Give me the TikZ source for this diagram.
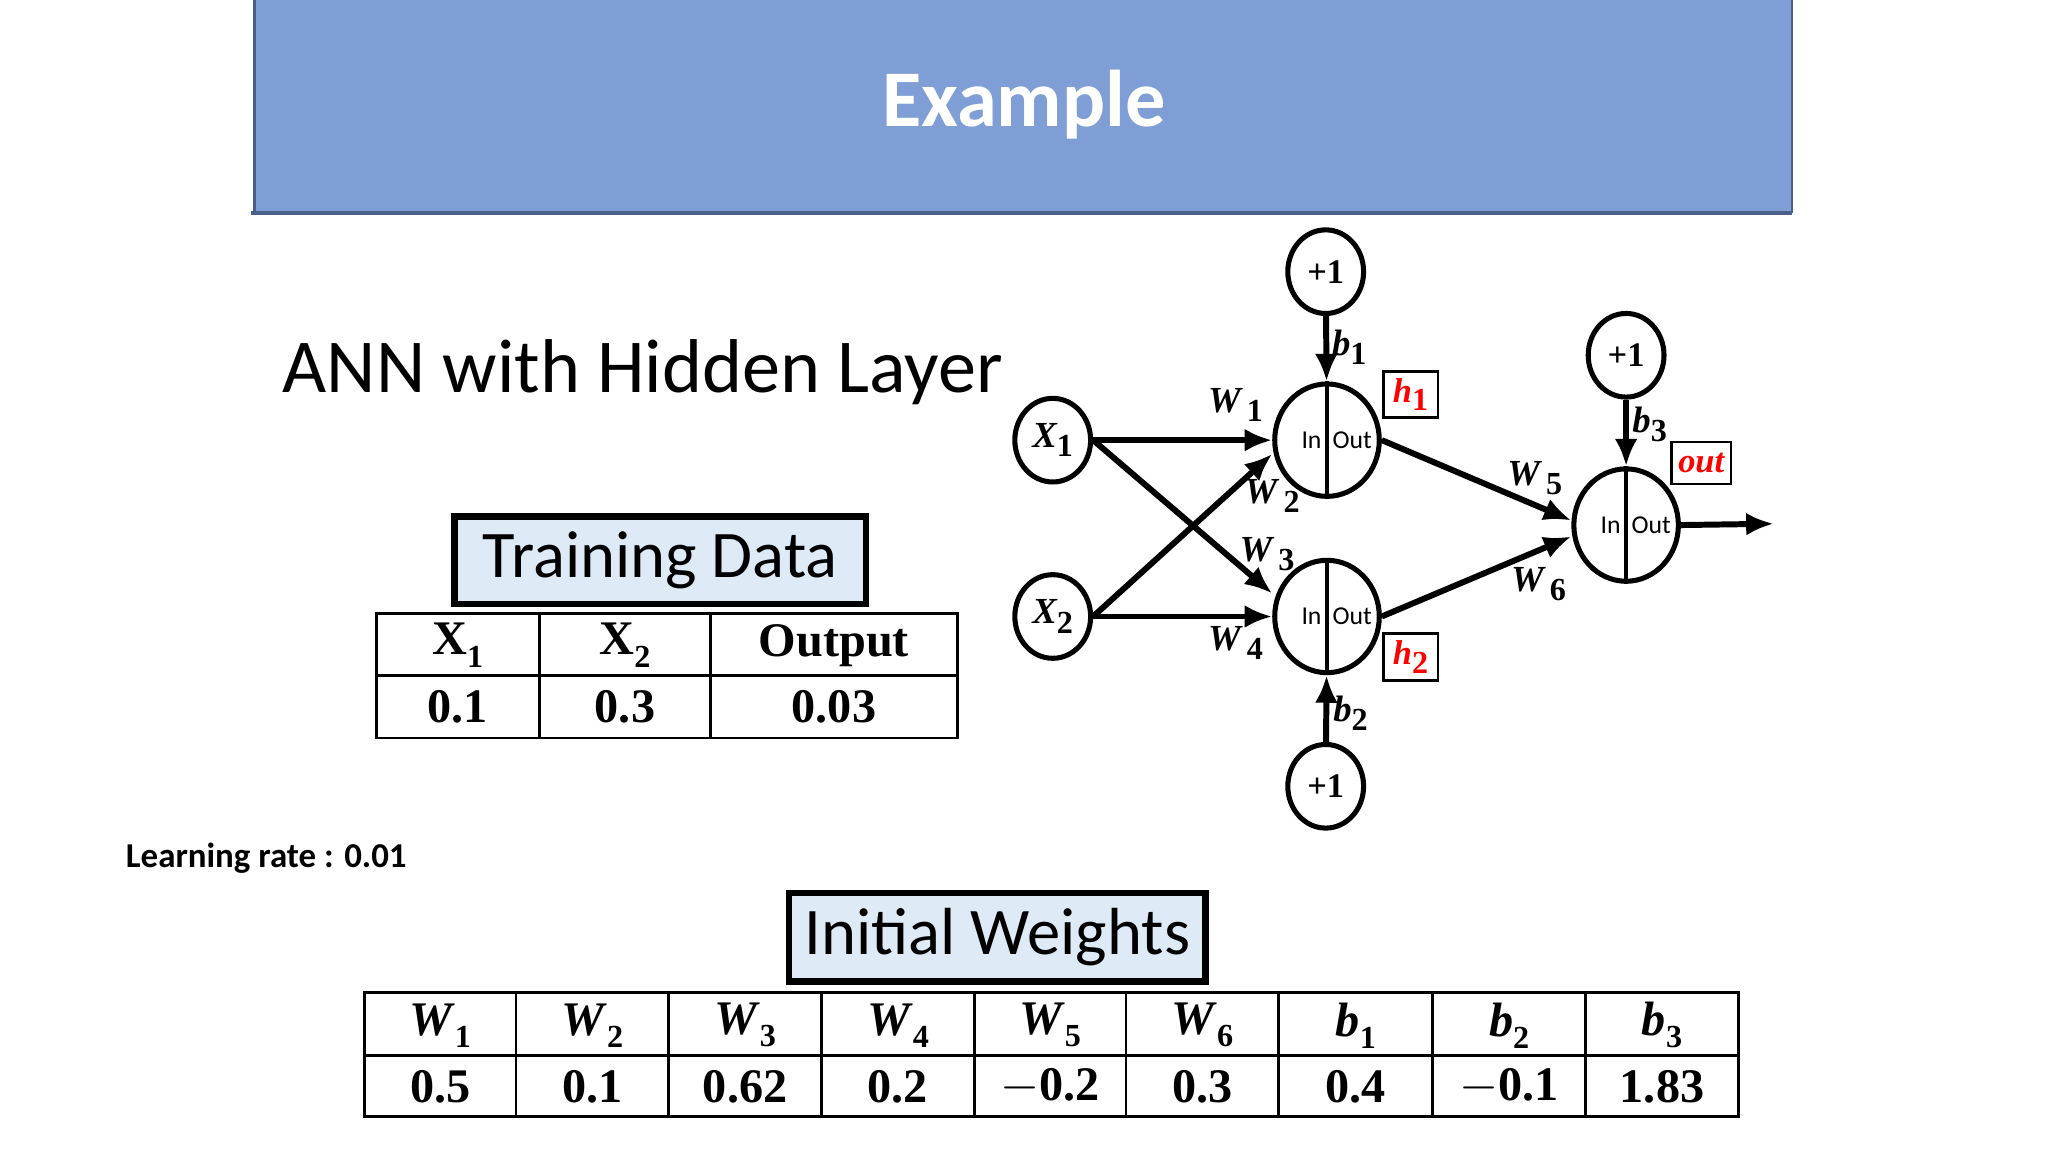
\documentclass[tikz,border=0pt]{standalone}
\usepackage{fontspec}
\setmainfont{Liberation Serif}
\newfontfamily\calfont{Carlito}
\usetikzlibrary{arrows.meta,shapes.geometric}
\definecolor{bar}{HTML}{7F9ED6}
\definecolor{barline}{HTML}{4A5F8A}
\definecolor{lblue}{HTML}{DEEBF7}
\newcommand{\sbx}[1]{\raisebox{-0.25em}{\scriptsize\upshape #1}}
\tikzset{
 x=0.01cm,y=-0.01cm,
 small/.style={draw,ellipse,line width=1.1pt,minimum width=0.58cm,minimum height=0.64cm,inner sep=0,font=\fontsize{7.5}{8}\selectfont\bfseries},
 big/.style={draw,ellipse,line width=1.1pt,minimum width=0.8cm,minimum height=0.86cm,inner sep=0},
 conn/.style={line width=1.3pt,-{Latex[length=6pt,width=5pt]}},
 wl/.style={font=\fontsize{8}{9}\selectfont\bfseries\itshape},
 redbox/.style={draw,line width=0.6pt,inner sep=1.5pt,text=red,font=\fontsize{7.5}{8}\selectfont\bfseries\itshape,minimum width=0.42cm,minimum height=0.32cm},
 hdr/.style={draw,line width=1.4pt,fill=lblue,font=\calfont\fontsize{14.5}{16}\selectfont},
 io/.style={font=\calfont\fontsize{5.6}{6}\selectfont,inner sep=1pt},
 cell/.style={font=\fontsize{10.5}{12}\selectfont\bfseries},
}
\begin{document}
\begin{tikzpicture}
\useasboundingbox (0,0) rectangle (1568,882);
% title bar
\fill[bar] (195,0) rectangle (1372,163);
\draw[barline,line width=0.6pt] (195,0) -- (195,163) (1372,0) -- (1372,163);
\draw[barline,line width=0.8pt] (192,163) -- (1372,163);
\node[text=white,font=\calfont\bfseries\fontsize{17.5}{20}\selectfont] (title) at (784,80) {Example};
\node[font=\calfont\fontsize{16.6}{20}\selectfont,anchor=west] (ann) at (204,285) {ANN with Hidden Layer};
% training data
\node[hdr,minimum width=3.15cm,minimum height=0.64cm] (td) at (505.5,429) {Training Data};
\draw[line width=0.6pt] (288,470) rectangle (733,565) (288,517) -- (733,517) (413,470) -- (413,565) (544,470) -- (544,565);
\node[cell] (c1) at (350.5,494) {X\sbx{1}};
\node[cell] (c2) at (478.5,494) {X\sbx{2}};
\node[cell] (c3) at (638.5,494) {Output};
\node[cell] (c4) at (350.5,541) {0.1};
\node[cell] (c5) at (478.5,541) {0.3};
\node[cell] (c6) at (638.5,541) {0.03};
\node[font=\calfont\bfseries\fontsize{7.6}{9}\selectfont,anchor=west] (lr) at (84,657) {Learning rate : 0.01};
% initial weights
\node[hdr,minimum width=3.15cm,minimum height=0.63cm] (iw) at (763.5,717.5) {Initial Weights};
\draw[line width=0.6pt] (279,760) rectangle (1331,855) (279,808) -- (1331,808);
\foreach \x in {395,512,629,746,862,979,1097,1214} \draw[line width=0.6pt] (\x,760) -- (\x,855);
\foreach \l/\i/\v/\x in {W/1/0.5/337,W/2/0.1/453.5,W/3/0.62/570.5,W/4/0.2/687.5,W/5/{$-$0.2}/804,W/6/0.3/920.5,b/1/0.4/1038,b/2/{$-$0.1}/1155.5,b/3/1.83/1272.5}{
 \node[cell] at (\x,785) {\textit{\l}\sbx{\i}};
 \node[cell] at (\x,832) {\v};}
% network
\node[small,font=\fontsize{8}{9}\selectfont\bfseries\itshape] (x1) at (806,337) {X\sbx{1}};
\node[small,font=\fontsize{8}{9}\selectfont\bfseries\itshape] (x2) at (806,472) {X\sbx{2}};
\node[small] (p1) at (1015,208) {+1};
\node[small] (p2) at (1015,602) {+1};
\node[small] (p3) at (1245,272) {+1};
\node[big] (h1) at (1016,337) {};
\node[big] (h2) at (1016,472) {};
\node[big] (o) at (1245,402) {};
\foreach \n in {h1,h2,o}{
 \draw[line width=0.8pt] (\n.north) -- (\n.south);
 \node[io,anchor=east] at (\n.center) {In};
 \node[io,anchor=west] at (\n.center) {Out};}
\draw[conn] (x1.east) -- (h1.west);
\draw[conn] (x1.east) -- ([yshift=5pt]h2.west);
\draw[conn] (x2.east) -- ([yshift=-3pt]h1.west);
\draw[conn] (x2.east) -- (h2.west);
\draw[conn] (h1.east) -- ([yshift=1pt]o.west);
\draw[conn] (h2.east) -- ([yshift=-2.5pt]o.west);
\draw[conn] (p1) -- (h1);
\draw[conn] (p2) -- (h2);
\draw[conn] (p3) -- (o);
\coordinate (end) at (1358,401);
\draw[conn] (o.east) -- (end);
\node[wl] (w1) at (946,310) {W\,\sbx{1}};
\node[wl] (w2) at (974,380) {W\,\sbx{2}};
\node[wl] (w3) at (970,424) {W\,\sbx{3}};
\node[wl] (w4) at (946,492) {W\,\sbx{4}};
\node[wl] (w5) at (1175,366) {W\,\sbx{5}};
\node[wl] (w6) at (1178,447) {W\,\sbx{6}};
\node[wl] (b1) at (1033,266) {b\sbx{1}};
\node[wl] (b2) at (1034,546) {b\sbx{2}};
\node[wl] (b3) at (1263,325) {b\sbx{3}};
\node[redbox] (rh1) at (1080,302) {h\sbx{1}};
\node[redbox] (rh2) at (1080,503) {h\sbx{2}};
\node[redbox] (ro) at (1302.5,354.5) {out};
\end{tikzpicture}
\end{document}
